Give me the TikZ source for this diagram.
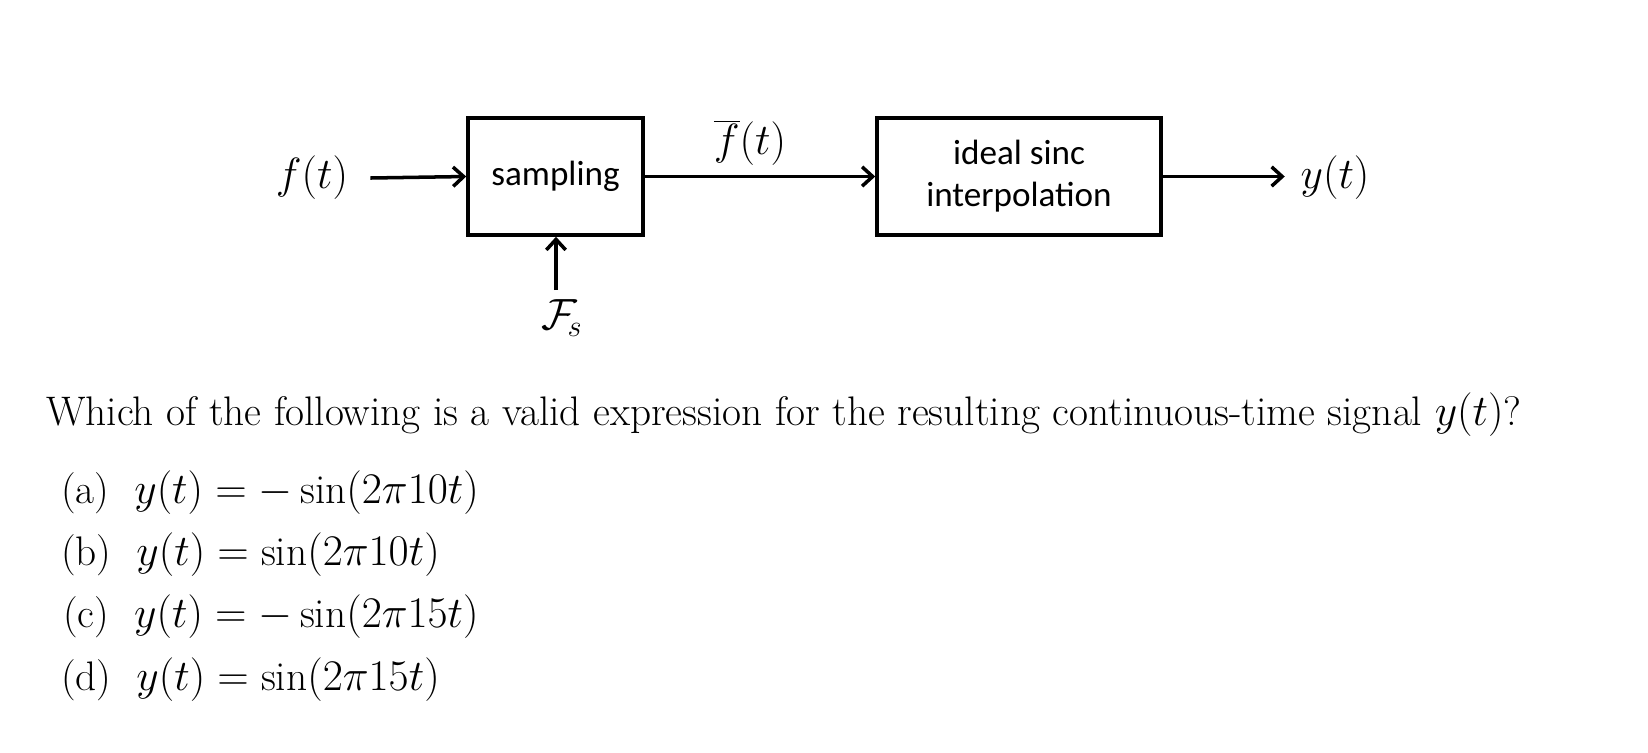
\documentclass[tikz,border=0pt]{standalone}
\usepackage{fontspec}
\newfontfamily\boxfont{Carlito}
\usetikzlibrary{arrows.meta}
\begin{document}
\begin{tikzpicture}[x=0.02cm,y=-0.02cm,
  blk/.style={draw,line width=2pt,inner sep=0pt,font=\boxfont\fontsize{20}{24}\selectfont,align=center},
  conn/.style={line width=2pt,-{Straight Barb[length=6pt,width=11pt,line width=2pt]}},
  lab/.style={font=\fontsize{23.5}{28}\selectfont}]
\useasboundingbox (0,0) rectangle (1648,752);
\node[blk,minimum width=175*0.02cm,minimum height=117*0.02cm] (s) at (555.5,176.5) {sampling};
\node[blk,minimum width=284*0.02cm,minimum height=117*0.02cm] (h) at (1019,176.5) {ideal sinc\\interpolation};
\node[lab] (f) at (312,178) {$f(t)$};
\node[lab] (y) at (1335,178) {$y(t)$};
\node[lab] (fb) at (750,143) {$\overline{f}(t)$};
\node[lab,inner sep=1pt] (F) at (562,318) {$\mathcal{F}_{\!s}$};
\coordinate (Ft) at (556,290);
\draw[conn] (f.east)++(16,0) -- (s.west);
\draw[conn] (s.east) -- (h.west);
\draw[conn] (h.east) -- ++(122,0) coordinate (ye);
\draw[conn] (Ft) -- (s.south -| Ft);
\node[lab,anchor=west] (q) at (40,415) {Which of the following is a valid expression for the resulting continuous-time signal $y(t)$?};
\node[lab,anchor=west] (a) at (55,493) {(a)\ \ $y(t)=-\sin(2\pi 10t)$};
\node[lab,anchor=west] (b) at (55,555) {(b)\ \ $y(t)=\sin(2\pi 10t)$};
\node[lab,anchor=west] (c) at (57,617) {(c)\ \ $y(t)=-\sin(2\pi 15t)$};
\node[lab,anchor=west] (d) at (55,680) {(d)\ \ $y(t)=\sin(2\pi 15t)$};
\end{tikzpicture}
\end{document}
